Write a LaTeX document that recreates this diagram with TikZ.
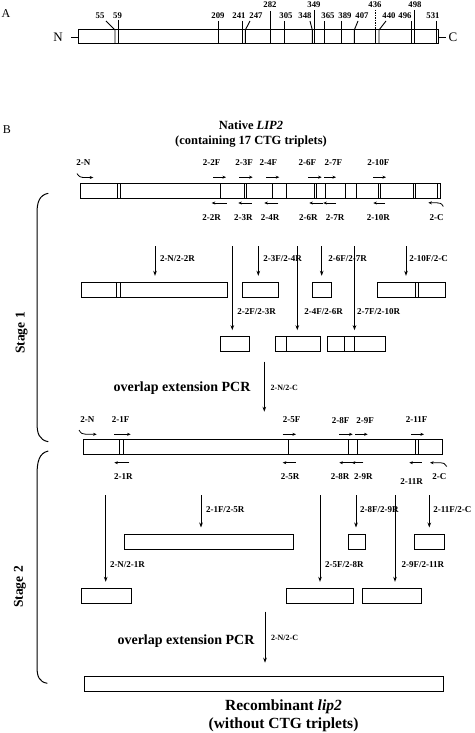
\documentclass[tikz,border=0pt]{standalone}
\usepackage{fontspec}
\setmainfont{Liberation Serif}
\usetikzlibrary{arrows.meta}
\begin{document}
\begin{tikzpicture}[x=1pt,y=-1pt,
  every node/.style={inner sep=0pt, outer sep=0pt},
  bar/.style={draw, line width=1pt, anchor=north west, minimum height=15pt},
  tk/.style={line width=0.9pt},
  prim/.style={line width=0.8pt, -{Stealth[length=3.6pt,width=3pt]}},
  down/.style={line width=0.8pt, -{Stealth[length=5pt,width=3.6pt]}, shorten >=6.5pt},
  plab/.style={font=\bfseries\fontsize{9}{10}\selectfont},
  alab/.style={font=\bfseries\fontsize{8.7}{9}\selectfont},
  flab/.style={font=\bfseries\fontsize{9}{10}\selectfont, anchor=west},
  title/.style={font=\bfseries\fontsize{12.5}{15}\selectfont},
  btitle/.style={font=\bfseries\fontsize{15.5}{18}\selectfont},
  ovl/.style={font=\bfseries\fontsize{14}{16}\selectfont},
  stg/.style={font=\bfseries\fontsize{13.5}{15}\selectfont, rotate=90},
  panel/.style={font=\fontsize{12}{14}\selectfont},
  brace/.style={line width=1pt}]
\useasboundingbox (0,0) rectangle (474,733);

% ---------------- Panel A ----------------
\node[panel] (pA) at (6,14) {A};
\node[bar, minimum width=360pt, minimum height=14pt] (pa) at (78,30) {};
\node[font=\fontsize{13}{14}\selectfont] (Nend) at (58,37) {N};
\node[font=\fontsize{13}{14}\selectfont] (Cend) at (453,37) {C};
\coordinate (nd) at (71,37);
\coordinate (cd) at (446,37);
\draw[tk] (nd) -- (pa.west);
\draw[tk] (pa.east) -- (cd);
\foreach \x/\t in {118.7/20, 218/21, 242/21, 270/11, 284/21, 314.5/10, 324.3/21, 341.7/21, 411.3/21, 414.3/10, 436/21}
  \draw[tk] (\x,\t) -- (\x,44);
\draw[tk, dash pattern=on 1.5pt off 1pt] (375.7,10) -- (375.7,30);
\draw[tk] (375.7,30) -- (375.7,44);
\draw[tk] (106,21) -- (115,30) -- (115,44);
\draw[tk] (250,21) -- (245.3,30) -- (245.3,44);
\draw[tk] (310,21) -- (312.3,30) -- (312.3,44);
\draw[tk] (358,21) -- (354.3,30) -- (354.3,44);
\draw[tk] (386,21) -- (379,30) -- (379,44);
\foreach \x/\y/\t [count=\i] in {100/16/55, 117.5/16/59, 218/16/209, 239/16/241, 256/16/247, 270/5/282, 286/16/305, 305/16/348, 314/5/349, 328/16/365, 345/16/389, 362/16/407, 375/5/436, 389/16/440, 405/16/496, 415/5/498, 433/16/531}
  \node[alab] (an\i) at (\x,\y) {\t};

% ---------------- Panel B ----------------
\node[panel] (pB) at (7,130) {B};
\node[title] (t1) at (251,125) {Native \textit{LIP2}};
\node[title] (t2) at (251,142) {(containing 17 CTG triplets)};

% native bar
\node[bar, minimum width=360pt] (nat) at (80,183) {};
\foreach \x in {117, 120.5, 220, 244.3, 246.6, 272, 286.5, 314.3, 316.5, 325.7, 345, 356.7, 378.3, 380.6, 413.3, 415.8, 437.5}
  \draw[tk] (\x,183) -- (\x,198);
% primers on native
\draw[prim] (77,173.5) .. controls (79,177) and (81,177.5) .. (85,177.5) -- (93.3,177.5);
\foreach \a/\b in {213.3/226, 239/252.7, 266/279.3, 308.3/321.7, 324.3/336, 373.3/386}
  \draw[prim] (\a,177.2) -- (\b,177.2);
\foreach \a/\b in {226.7/211.7, 251.7/238.3, 278.3/264.3, 323/309.3, 336/323.3, 385/373.3}
  \draw[prim] (\a,203) -- (\b,203);
\draw[prim] (443.3,206.5) .. controls (441.5,203.3) and (440,202.8) .. (437,202.8) -- (428.3,202.8);
\foreach \x/\t [count=\i] in {83.3/2-N, 211.7/2-2F, 244/2-3F, 268.3/2-4F, 307.3/2-6F, 333.3/2-7F, 378.3/2-10F}
  \node[plab] (nf\i) at (\x,163) {\t};
\foreach \x/\t [count=\i] in {211.7/2-2R, 243.3/2-3R, 270/2-4R, 308.3/2-6R, 335/2-7R, 378.3/2-10R, 436.7/2-C}
  \node[plab] (nr\i) at (\x,218) {\t};

% Stage 1 brace
\draw[brace] (48.3,193.3) .. controls (39,195) and (37,203) .. (37,213) -- (37,423) .. controls (37,433) and (39,440) .. (48.3,441.7);
\node[stg] (s1) at (21.7,333) {Stage 1};

% stage 1 fragments
\node[bar, minimum width=145.6pt] (f1) at (81.7,282.3) {};
\node[bar, minimum width=35.6pt] (f2) at (242.7,282.3) {};
\node[bar, minimum width=18.7pt] (f3) at (312.3,282.3) {};
\node[bar, minimum width=67.7pt] (f4) at (377.3,282.3) {};
\node[bar, minimum width=28.3pt] (f5) at (220.7,336.7) {};
\node[bar, minimum width=44.3pt] (f6) at (275.7,336.7) {};
\node[bar, minimum width=57.3pt] (f7) at (327.7,336.7) {};
\foreach \x in {116, 120} \draw[tk] (\x,282.3) -- (\x,297.3);
\foreach \x in {415, 418.3} \draw[tk] (\x,282.3) -- (\x,297.3);
\draw[tk] (286.7,336.7) -- (286.7,351.7);
\foreach \x in {344.5, 354.7} \draw[tk] (\x,336.7) -- (\x,351.7);

\coordinate (a1) at (155,246);
\coordinate (a2) at (232.3,246);
\coordinate (a3) at (258.3,246);
\coordinate (a4) at (297.3,246);
\coordinate (a5) at (321.7,246);
\coordinate (a6) at (354.5,246);
\coordinate (a7) at (406,246);
\draw[down] (a1) -- (a1 |- f1.north);
\draw[down] (a2) -- (a2 |- f5.north);
\draw[down] (a3) -- (a3 |- f2.north);
\draw[down] (a4) -- (a4 |- f6.north);
\draw[down] (a5) -- (a5 |- f3.north);
\draw[down] (a6) -- (a6 |- f7.north);
\draw[down] (a7) -- (a7 |- f4.north);
\node[flab] (l1) at (160,258.3) {2-N/2-2R};
\node[flab] (l2) at (237.3,311.7) {2-2F/2-3R};
\node[flab] (l3) at (263.3,258.3) {2-3F/2-4R};
\node[flab] (l4) at (304.3,311.7) {2-4F/2-6R};
\node[flab] (l5) at (328.3,258.3) {2-6F/2-7R};
\node[flab] (l6) at (357,311.7) {2-7F/2-10R};
\node[flab] (l7) at (409.3,258.3) {2-10F/2-C};

% overlap extension 1
\node[ovl] (o1) at (182,388.3) {overlap extension PCR};
\coordinate (c1) at (264.3,361.7);
\coordinate (c2) at (264.3,411.7);
\draw[down, shorten >=0pt] (c1) -- (c2);
\node[flab, font=\bfseries\fontsize{8}{9}\selectfont] (oc1) at (270.7,387.7) {2-N/2-C};

% intermediate bar
\node[bar, minimum width=359.4pt] (mid) at (83.3,439.5) {};
\foreach \x in {119, 123.3, 288.7, 348.3, 357.7, 415, 418.3}
  \draw[tk] (\x,439.5) -- (\x,454.5);
\draw[prim] (79,430) .. controls (81,433.5) and (82.5,434.3) .. (86,434.3) -- (96.7,434.3);
\foreach \a/\b in {114/130.7, 282.7/296, 339.3/352.7, 355/367.7, 411/424}
  \draw[prim] (\a,434.3) -- (\b,434.3);
\foreach \a/\b in {129.3/114.3, 295.7/282.7, 352.7/339.3, 363.3/351.7, 421.7/409.3}
  \draw[prim] (\a,462.7) -- (\b,462.7);
\draw[prim] (446.7,466.5) .. controls (445,463.5) and (443.5,462.7) .. (440.5,462.7) -- (430,462.7);
\foreach \x/\y/\t [count=\i] in {87.3/420/2-N, 120.7/420/2-1F, 291.7/420/2-5F, 340.7/421/2-8F, 365/421/2-9F, 416.7/420/2-11F}
  \node[plab] (mf\i) at (\x,\y) {\t};
\foreach \x/\y/\t [count=\i] in {123.3/476.7/2-1R, 290/476.7/2-5R, 340/476.7/2-8R, 363.3/476.7/2-9R, 411.7/481.7/2-11R, 439.3/476.7/2-C}
  \node[plab] (mr\i) at (\x,\y) {\t};

% Stage 2 brace
\draw[brace] (48.3,451) .. controls (39,453) and (37,462) .. (37,475) -- (37,667) .. controls (37,676) and (39,682) .. (47.3,683.3);
\node[stg] (s2) at (20,587) {Stage 2};

% stage 2 fragments
\node[bar, minimum width=169.3pt] (g1) at (124,534) {};
\node[bar, minimum width=16.7pt] (g2) at (348.3,534) {};
\node[bar, minimum width=29.7pt] (g3) at (414.3,534) {};
\node[bar, minimum width=49.3pt] (g4) at (81.7,588.3) {};
\node[bar, minimum width=66.6pt] (g5) at (286.7,588.3) {};
\node[bar, minimum width=59pt] (g6) at (362.7,588.3) {};
\coordinate (b1) at (105.7,495);
\coordinate (b2) at (201,495);
\coordinate (b3) at (320,495);
\coordinate (b4) at (356,495);
\coordinate (b5) at (395,495);
\coordinate (b6) at (429.3,495);
\draw[down] (b1) -- (b1 |- g4.north);
\draw[down] (b2) -- (b2 |- g1.north);
\draw[down] (b3) -- (b3 |- g5.north);
\draw[down] (b4) -- (b4 |- g2.north);
\draw[down] (b5) -- (b5 |- g6.north);
\draw[down] (b6) -- (b6 |- g3.north);
\node[flab] (k1) at (110,565) {2-N/2-1R};
\node[flab] (k2) at (206,510) {2-1F/2-5R};
\node[flab] (k3) at (325,565) {2-5F/2-8R};
\node[flab] (k4) at (360,510) {2-8F/2-9R};
\node[flab] (k5) at (401.7,565) {2-9F/2-11R};
\node[flab] (k6) at (433.3,510) {2-11F/2-C};

% overlap extension 2
\node[ovl] (o2) at (186,640.7) {overlap extension PCR};
\coordinate (d1) at (265,611.7);
\coordinate (d2) at (265,662.7);
\draw[down, shorten >=0pt] (d1) -- (d2);
\node[flab, font=\bfseries\fontsize{8}{9}\selectfont] (oc2) at (271,638.3) {2-N/2-C};

% final bar
\node[bar, minimum width=359pt, minimum height=14.3pt] (fin) at (84.3,676.7) {};
\node[btitle] (t3) at (283.5,707) {Recombinant \textit{lip2}};
\node[btitle] (t4) at (283.5,725) {(without CTG triplets)};
\end{tikzpicture}
\end{document}
